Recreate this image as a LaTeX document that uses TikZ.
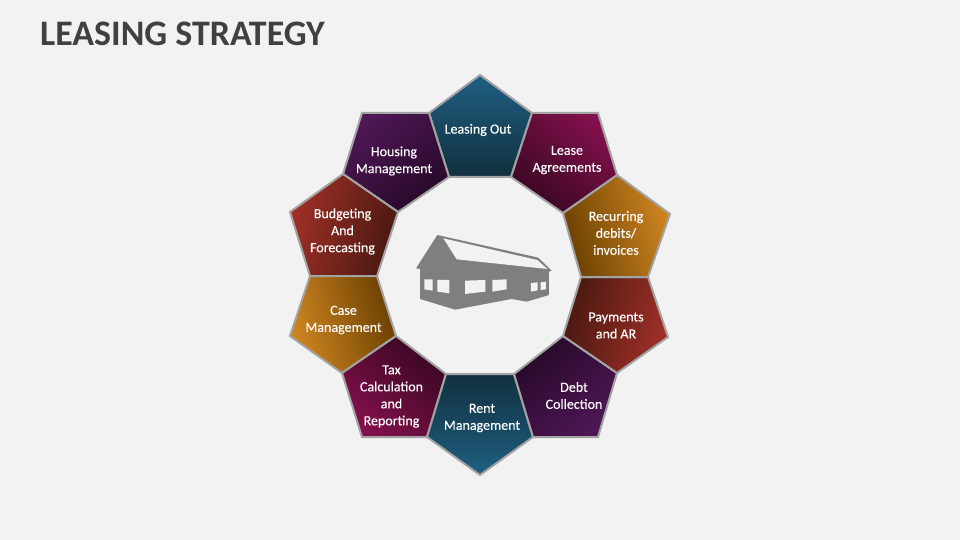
\documentclass[tikz,border=0pt]{standalone}
\usepackage{fontspec}
\setmainfont{Carlito}
\newfontfamily\lblfont[FakeBold=0.25]{Carlito}
\definecolor{bgc}{HTML}{F2F2F2}
\definecolor{edgec}{HTML}{A3A3A3}
\definecolor{housec}{HTML}{7F7F7F}
\definecolor{titlec}{HTML}{404040}
\definecolor{blueL}{HTML}{1F5F82}
\definecolor{blueD}{HTML}{11303F}
\definecolor{purL}{HTML}{4E1655}
\definecolor{purD}{HTML}{260928}
\definecolor{redL}{HTML}{A03028}
\definecolor{redD}{HTML}{491810}
\definecolor{magL}{HTML}{82104C}
\definecolor{magD}{HTML}{380722}
\definecolor{ambL}{HTML}{D08620}
\definecolor{ambD}{HTML}{6A4002}
\tikzset{
  petal/.style={draw=edgec,line width=2pt,line join=miter},
  lbl/.style={text=white,font=\lblfont\fontsize{14}{17}\selectfont,align=center,inner sep=0pt},
  housebody/.style={fill=housec,draw=none},
  houseopen/.style={fill=bgc,draw=none}
}
\begin{document}
\begin{tikzpicture}[x=1pt,y=-1pt]
\useasboundingbox (0,0) rectangle (960,540);
\fill[bgc] (0,0) rectangle (960,540);
\node[anchor=west,inner sep=0pt,text=titlec,font=\fontsize{35.9}{38}\bfseries\selectfont] (title) at (40,34) {LEASING STRATEGY};
% petals
\draw[petal,top color=blueL,bottom color=blueD] (480,75)--(532,113)--(511,177)--(449,177)--(429,113)--cycle;
\draw[petal,top color=purL,bottom color=purD,shading angle=40] (362,113)--(429,113)--(449,177)--(398,212)--(343,174)--cycle;
\draw[petal,top color=redL,bottom color=redD,shading angle=75] (343,174)--(398,212)--(377,276)--(310,276)--(290,212)--cycle;
\draw[petal,top color=ambL,bottom color=ambD,shading angle=105] (310,276)--(377,276)--(396,336)--(342,373)--(290,336)--cycle;
\draw[petal,top color=magL,bottom color=magD,shading angle=140] (396,336)--(446,374)--(427,437)--(362,437)--(342,373)--cycle;
\draw[petal,top color=blueD,bottom color=blueL] (446,374)--(514,374)--(533,437)--(480,475)--(427,437)--cycle;
\draw[petal,top color=purD,bottom color=purL,shading angle=40] (514,374)--(563,336)--(617,373)--(598,437)--(533,437)--cycle;
\draw[petal,top color=redL,bottom color=redD,shading angle=-105] (581,277)--(648,277)--(668,337)--(617,373)--(563,336)--cycle;
\draw[petal,top color=ambL,bottom color=ambD,shading angle=-75] (617,175)--(670,214)--(648,277)--(581,277)--(563,213)--cycle;
\draw[petal,top color=magL,bottom color=magD,shading angle=-40] (532,113)--(598,113)--(617,175)--(563,213)--(511,177)--cycle;
% labels
\node[lbl] (n1) at (478,130) {Leasing Out};
\node[lbl] (n2) at (567,160) {Lease\\Agreements};
\node[lbl] (n3) at (616,233) {Recurring\\debits/\\invoices};
\node[lbl] (n4) at (616,325.5) {Payments\\and AR};
\node[lbl] (n5) at (574,395.5) {Debt\\Collection};
\node[lbl] (n6) at (482,418) {Rent\\Management};
\node[lbl] (n7) at (391.5,396.5) {Tax\\Calculation\\and\\Reporting};
\node[lbl] (n8) at (343.5,320) {Case\\Management};
\node[lbl] (n9) at (342.5,231.5) {Budgeting\\And\\Forecasting};
\node[lbl] (n10) at (394,161) {Housing\\Management};
% house
\begin{scope}[shift={(410,225)},x=0.3333pt,y=-0.3333pt]
\fill[housebody] (82,30)--(385,98)--(425,137)--(417,140)--(417,210)--(350,230)--(305,222)--(135,254)--(30,222)--(30,132)--(18,130)--cycle;
\fill[houseopen] (100,40)--(382,105)--(412,132)--(140,103)--cycle;
\fill[houseopen] (43,163)--(68,163)--(68,197)--(43,193)--cycle;
\fill[houseopen] (82,165)--(118,165)--(118,205)--(82,200)--cycle;
\fill[houseopen] (165,167)--(226,165)--(226,200)--(165,207)--cycle;
\fill[houseopen] (247,165)--(290,163)--(290,193)--(247,200)--cycle;
\fill[houseopen] (363,174)--(383,172)--(383,196)--(363,200)--cycle;
\fill[houseopen] (392,172)--(408,170)--(408,193)--(392,195)--cycle;
\end{scope}
\end{tikzpicture}
\end{document}
